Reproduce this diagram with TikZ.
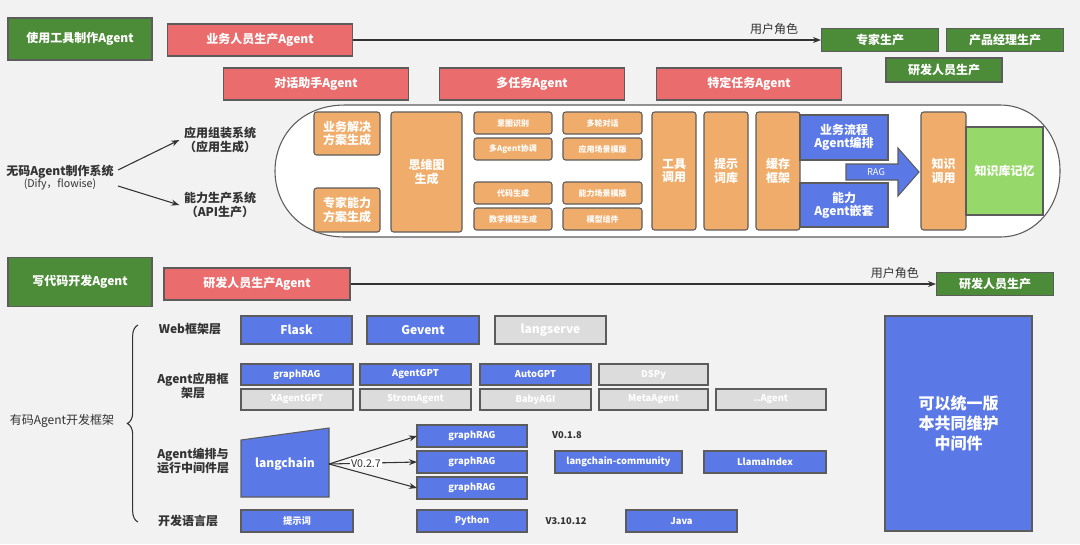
\documentclass[tikz,border=0pt]{standalone}
\usepackage{fontspec}
\setmainfont{Noto Sans CJK SC}
\usetikzlibrary{arrows.meta,decorations.pathreplacing}
\definecolor{bg}{HTML}{F2F2F2}
\definecolor{gr}{HTML}{4C8C38}
\definecolor{rd}{HTML}{EA6C6C}
\definecolor{og}{HTML}{F0AC6A}
\definecolor{bl}{HTML}{5B79E6}
\definecolor{gy}{HTML}{DCDCDC}
\definecolor{lg}{HTML}{96D86A}
\definecolor{tx}{HTML}{333333}
\begin{document}
\begin{tikzpicture}[x=0.75pt,y=-0.75pt,
 bx/.style={draw=tx!80,line width=0.8pt,text=white,font=\bfseries\fontsize{9}{10}\selectfont,align=center,inner sep=0pt},
 G/.style={bx,fill=gr},R/.style={bx,fill=rd},O/.style={bx,fill=og,rounded corners=2pt},
 Os/.style={O,font=\bfseries\fontsize{6}{7}\selectfont},
 B/.style={bx,fill=bl},Bs/.style={B,font=\bfseries\fontsize{7}{8}\selectfont},
 Y/.style={bx,fill=gy,font=\bfseries\fontsize{7}{8}\selectfont},
 lab/.style={text=tx,font=\bfseries\fontsize{9}{11}\selectfont,align=center},
 ar/.style={-{Stealth[length=6pt]},draw=tx,line width=0.8pt}]
\fill[bg] (0,0) rectangle (1080,544);
\useasboundingbox (0,0) rectangle (1080,544);
% row 1
\node[G,minimum width=144pt*0.75,minimum height=42*0.75pt] (g1) at (80,39) {使用工具制作Agent};
\node[R,minimum width=185*0.75pt,minimum height=32*0.75pt] (r1) at (260,40) {业务人员生产Agent};
\node[G,minimum width=117*0.75pt,minimum height=23*0.75pt] (e1) at (880,40) {专家生产};
\node[G,minimum width=117*0.75pt,minimum height=23*0.75pt] (e2) at (1005,40) {产品经理生产};
\node[G,minimum width=116*0.75pt,minimum height=24*0.75pt] (e3) at (944,70) {研发人员生产};
\draw[ar] (r1.east) -- (e1.west) node[pos=0.9,above,lab,font=\fontsize{9}{10}\selectfont]{用户角色};
\foreach \t/\x in {对话助手Agent/316,多任务Agent/532,特定任务Agent/749}
 \node[R,minimum width=185*0.75pt,minimum height=32*0.75pt] at (\x,84) {\t};
% capsule
\draw[tx!80,fill=white,line width=0.8pt] (345,105) -- (1000,105) .. controls (1035,105) and (1060,135) .. (1060,171) .. controls (1060,207) and (1035,237) .. (1000,237) -- (345,237) .. controls (300,237) and (275,205) .. (275,171) .. controls (275,137) and (300,105) .. (345,105) -- cycle;
\node[lab] (nocode) at (60,178) {无码Agent制作系统\\[-2pt]{\normalfont\fontsize{8}{9}\selectfont(Dify，flowise)}};
\node[lab] (app) at (220,140) {应用组装系统\\（应用生成）};
\node[lab] (cap) at (220,205) {能力生产系统\\（API生产）};
\draw[ar] (118,170) -- (app.west);
\draw[ar] (118,186) -- (cap.west);
\newcommand\obox[6]{\node[#1,minimum width=(#4-#2)*0.75pt,minimum height=(#5-#3)*0.75pt] at ({(#2+#4)/2},{(#3+#5)/2}) {#6};}
\obox{O}{314}{112}{380}{155}{业务解决\\方案生成}
\obox{O}{314}{188}{380}{232}{专家能力\\方案生成}
\obox{O}{391}{112}{462}{232}{思维图\\生成}
\obox{Os}{474}{112}{552}{134}{意图识别}
\obox{Os}{563}{112}{642}{134}{多轮对话}
\obox{Os}{474}{138}{552}{160}{多Agent协调}
\obox{Os}{563}{138}{642}{160}{应用场景模版}
\obox{Os}{474}{182}{552}{204}{代码生成}
\obox{Os}{563}{182}{642}{204}{能力场景模版}
\obox{Os}{474}{208}{552}{230}{数学模型生成}
\obox{Os}{563}{208}{642}{230}{模型组件}
\obox{O}{652}{112}{696}{230}{工具\\调用}
\obox{O}{704}{112}{748}{230}{提示\\词库}
\obox{O}{756}{112}{800}{230}{缓存\\框架}
\obox{B}{800}{115}{888}{160}{业务流程\\Agent编排}
\obox{B}{800}{183}{888}{227}{能力\\Agent嵌套}
\draw[tx!80,fill=bl,line width=0.8pt] (846,164)--(898,164)--(898,148)--(919,172)--(898,196)--(898,180)--(846,180)--cycle;
\node[text=white,font=\fontsize{7}{8}\selectfont] at (876,172) {RAG};
\obox{O}{921}{112}{966}{230}{知识\\调用}
\node[bx,fill=lg,minimum width=77*0.75pt,minimum height=88*0.75pt] at (1004.5,171) {知识库记忆};
% row 2
\node[G,minimum width=144*0.75pt,minimum height=49*0.75pt] at (80,282) {写代码开发Agent};
\node[R,minimum width=186*0.75pt,minimum height=32*0.75pt] (r2) at (257,284) {研发人员生产Agent};
\node[G,minimum width=117*0.75pt,minimum height=23*0.75pt] (e4) at (995,284) {研发人员生产};
\draw[ar] (r2.east) -- (e4.west) node[pos=0.93,above,lab,font=\fontsize{9}{10}\selectfont]{用户角色};
% code framework
\draw[tx,line width=0.8pt,decorate,decoration={brace,amplitude=8pt}] (138,522) -- (138,325);
\node[lab,font=\fontsize{9}{10}\selectfont] at (62,421) {有码Agent开发框架};
\node[lab] at (190,329) {Web框架层};
\node[lab] at (193,386) {Agent应用框\\架层};
\node[lab] at (193,461) {Agent编排与\\运行中间件层};
\node[lab] at (188,521) {开发语言层};
\obox{B}{241}{316}{352}{344}{Flask}
\obox{B}{367}{316}{479}{344}{Gevent}
\node[bx,fill=gy,minimum width=111*0.75pt,minimum height=28*0.75pt] at (550.5,330) {langserve};
\obox{Bs}{241}{364}{353}{385}{graphRAG}
\obox{Bs}{360}{364}{471}{385}{AgentGPT}
\obox{Bs}{480}{364}{591}{385}{AutoGPT}
\obox{Y}{599}{364}{708}{385}{DSPy}
\obox{Y}{241}{389}{353}{410}{XAgentGPT}
\obox{Y}{360}{389}{471}{410}{StromAgent}
\obox{Y}{480}{389}{591}{410}{BabyAGI}
\obox{Y}{599}{389}{708}{410}{MetaAgent}
\obox{Y}{716}{389}{826}{410}{..Agent}
\draw[tx!80,fill=bl,line width=0.8pt] (241,440)--(329,428)--(329,497)--(241,497)--cycle;
\node[text=white,font=\bfseries\fontsize{9}{10}\selectfont] (lc) at (285,464) {langchain};
\coordinate (lcr) at (329,464);
\obox{Bs}{417}{425}{527}{447}{graphRAG}
\obox{Bs}{417}{451}{527}{473}{graphRAG}
\obox{Bs}{417}{477}{527}{499}{graphRAG}
\coordinate (gA) at (417,436);\coordinate (gB) at (417,462);\coordinate (gC) at (417,488);
\draw[ar] (lcr) -- (gA);
\draw[ar] (lcr) -- (gC);
\draw[ar] (lcr) -- (gB) node[pos=0.42,fill=white,inner sep=1pt,text=tx,font=\fontsize{8}{9}\selectfont]{V0.2.7};
\node[lab,font=\bfseries\fontsize{7}{8}\selectfont] at (567,435) {V0.1.8};
\obox{Bs}{555}{451}{682}{473}{langchain-community}
\obox{Bs}{704}{451}{826}{473}{LlamaIndex}
\obox{Bs}{241}{510}{353}{532}{提示词}
\obox{Bs}{417}{510}{527}{532}{Python}
\node[lab,font=\bfseries\fontsize{7}{8}\selectfont] at (566,521) {V3.10.12};
\obox{Bs}{626}{510}{737}{532}{Java}
\node[bx,fill=bl,minimum width=147*0.75pt,minimum height=215*0.75pt,font=\bfseries\fontsize{12}{15}\selectfont] at (958.5,423.5) {可以统一版\\本共同维护\\中间件};
\end{tikzpicture}
\end{document}
